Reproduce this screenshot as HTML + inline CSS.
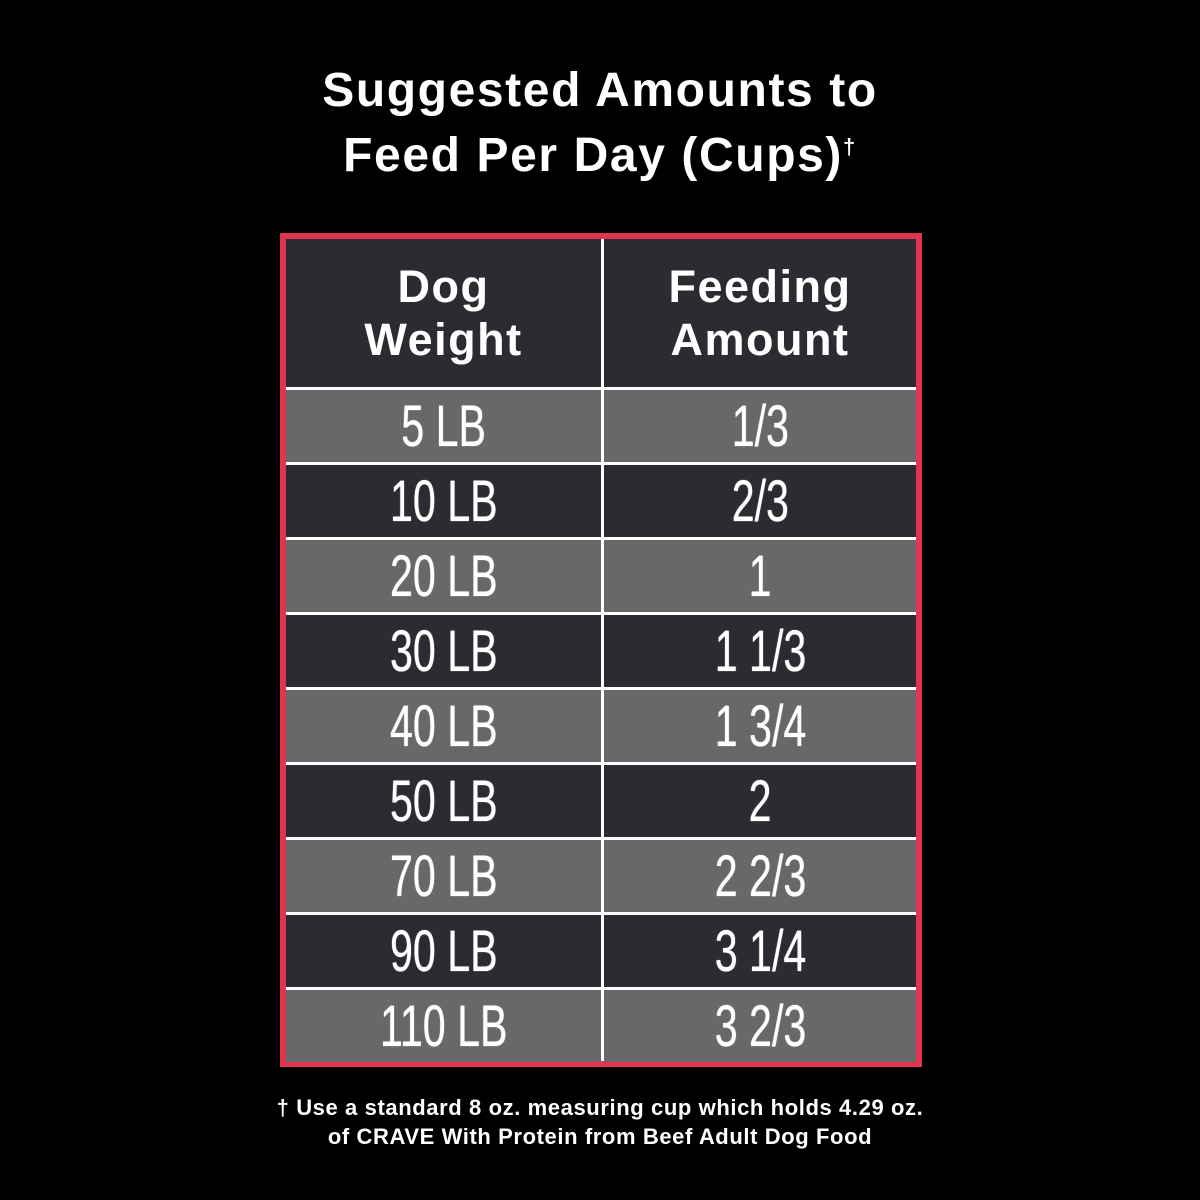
<!DOCTYPE html>
<html><head><style>
body{margin:0;width:1200px;height:1200px;background:#000;font-family:"Liberation Sans",sans-serif;color:#fff;position:relative;overflow:hidden}
.t{position:absolute;left:0;width:1200px;text-align:center;font-weight:bold;font-size:48px;letter-spacing:1.6px}
.tbl{position:absolute;left:280px;top:233px;width:630px;height:822px;border:6px solid #e0344f;background:#fff}
.c{position:absolute;display:flex;align-items:center;justify-content:center}
.n span{display:inline-block;font-size:58px;transform:scaleX(0.71);text-shadow:0 0 1px #fff}
.h{font-weight:bold;font-size:45px;line-height:53px;text-align:center;letter-spacing:1.5px}
.f{position:absolute;left:0;width:1200px;text-align:center;font-weight:bold;font-size:22px;letter-spacing:0.6px}
</style></head><body>
<div class="t" style="top:63px">Suggested Amounts to</div>
<div class="t" style="top:128px">Feed Per Day (Cups)<sup style="font-size:22px">†</sup></div>
<div class="tbl">
<div class="c h" style="left:0;top:0;width:315px;height:148px;background:#2b2c31">Dog<br>Weight</div>
<div class="c h" style="left:318px;top:0;width:312px;height:148px;background:#2b2c31">Feeding<br>Amount</div>
<div id="rows"></div>
</div>
<div class="f" style="top:1095px">† Use a standard 8 oz. measuring cup which holds 4.29 oz.</div>
<div class="f" style="top:1124px">of CRAVE With Protein from Beef Adult Dog Food</div>
<script>
var d=[["5 LB","1/3"],["10 LB","2/3"],["20 LB","1"],["30 LB","1 1/3"],["40 LB","1 3/4"],["50 LB","2"],["70 LB","2 2/3"],["90 LB","3 1/4"],["110 LB","3 2/3"]];
var h="";
d.forEach(function(r,i){var top=151+i*75;var bg=i%2?"#2b2c31":"#68686a";var hh=72;
h+='<div class="c n" style="left:0;top:'+top+'px;width:315px;height:'+hh+'px;background:'+bg+'"><span>'+r[0]+'</span></div>';
h+='<div class="c n" style="left:318px;top:'+top+'px;width:312px;height:'+hh+'px;background:'+bg+'"><span>'+r[1]+'</span></div>';});
document.getElementById("rows").innerHTML=h;
</script>
</body></html>
